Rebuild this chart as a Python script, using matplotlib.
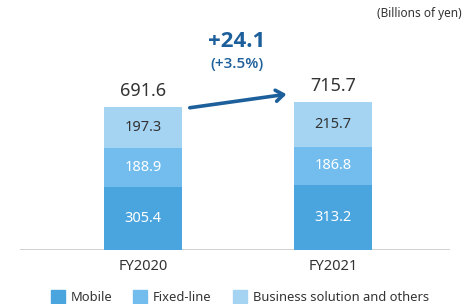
import matplotlib.pyplot as plt
from matplotlib.patches import Patch

plt.rcParams['font.family'] = ['Noto Sans', 'DejaVu Sans']

years = ['FY2020', 'FY2021']
mobile = [305.4, 313.2]
fixed = [188.9, 186.8]
business = [197.3, 215.7]
totals = [691.6, 715.7]
series_names = ['Mobile', 'Fixed-line', 'Business solution and others']

c_mob = '#4aa5de'
c_fix = '#72bdee'
c_bus = '#a5d4f3'
c_dark = '#333333'
c_blue = '#1c5f9b'

fig = plt.figure(figsize=(4.7, 3.04), dpi=100)
ax = fig.add_axes([20/470, 54/304, 430/470, 250/304])
ax.set_xlim(-0.647, 1.616)
ax.set_ylim(0, 1210)
ax.axis('off')
ax.axhline(0, color='#c8c8c8', lw=1.2, zorder=1)

x = range(len(years))
w = 0.41
bottoms2 = [m + f for m, f in zip(mobile, fixed)]
ax.bar(x, mobile, w, color=c_mob, zorder=2)
ax.bar(x, fixed, w, bottom=mobile, color=c_fix, zorder=2)
ax.bar(x, business, w, bottom=bottoms2, color=c_bus, zorder=2)

for i in x:
    ax.text(i, mobile[i] / 2, f'{mobile[i]:.1f}', ha='center', va='center',
            color='white', fontsize=10.5)
    ax.text(i, mobile[i] + fixed[i] / 2, f'{fixed[i]:.1f}', ha='center',
            va='center', color='white', fontsize=10.5)
    ax.text(i, bottoms2[i] + business[i] / 2, f'{business[i]:.1f}',
            ha='center', va='center', color=c_dark, fontsize=10.5)
    ax.text(i, totals[i] + 35, f'{totals[i]:.1f}', ha='center', va='bottom',
            color=c_dark, fontsize=13)
    ax.text(i, -78, years[i], ha='center', va='center', color=c_dark,
            fontsize=10.5)

# growth arrow
ax.annotate('', xy=(0.77, totals[1] + 40), xytext=(0.232, totals[0] - 5),
            arrowprops=dict(arrowstyle='->,head_length=0.55,head_width=0.4',
                            color=c_blue, lw=2.6))
diff = totals[1] - totals[0]
pct = diff / totals[0] * 100
ax.text(0.495, 1010, f'+{diff:.1f}', ha='center', va='center', color=c_blue,
        fontsize=16, fontweight='bold', family='Open Sans')
ax.text(0.495, 900, f'(+{pct:.1f}%)', ha='center', va='center',
        color=c_blue, fontsize=11, fontweight='semibold', family='Open Sans')

fig.text(462/470, 1 - 13/304, '(Billions of yen)', ha='right', va='center',
         color=c_dark, fontsize=8.5)

handles = [Patch(color=c) for c in (c_mob, c_fix, c_bus)]
fig.legend(handles, series_names, loc='center', bbox_to_anchor=(0.51, 1 - 297/304),
           ncol=3, frameon=False, fontsize=9.3, handlelength=1.1,
           handleheight=1.1, handletextpad=0.45, columnspacing=1.6,
           labelcolor=c_dark)

fig.savefig('out.png', dpi=100)
